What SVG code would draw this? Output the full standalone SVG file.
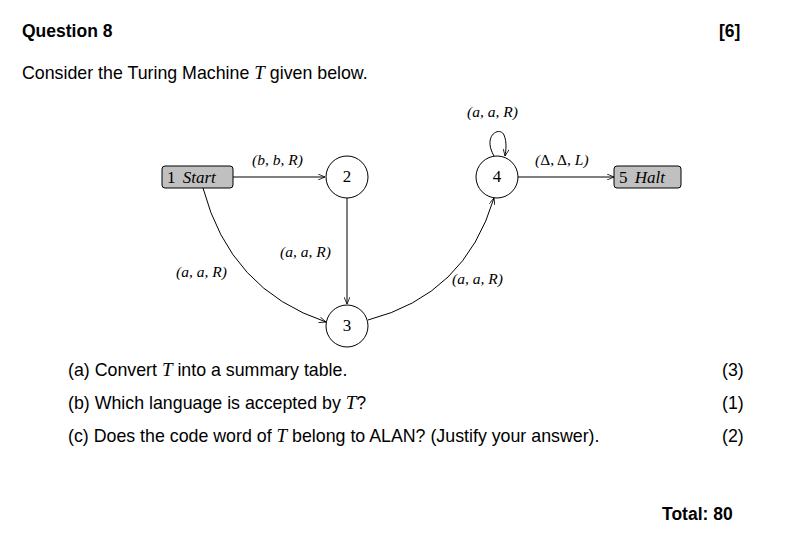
<svg xmlns="http://www.w3.org/2000/svg" width="807" height="546" viewBox="0 0 807 546">
<style>
.b{font-family:"Liberation Sans",Arial,sans-serif;font-weight:bold;font-size:17.5px}
.t{font-family:"Liberation Sans",Arial,sans-serif;font-size:17.8px}
.m{font-family:"Liberation Serif","Times New Roman",serif;font-size:15.5px;font-style:italic}
.n{font-family:"Liberation Serif","Times New Roman",serif;font-size:17px}
.c{fill:#fff;stroke:#000;stroke-width:1}
.r{fill:#c0c0c0;stroke:#000;stroke-width:1}
.e{fill:none;stroke:#000;stroke-width:1;marker-end:url(#a)}
</style>
<defs><marker id="a" markerWidth="8" markerHeight="6" refX="7" refY="3" orient="auto" markerUnits="userSpaceOnUse"><path d="M0,0 L7,3 L0,6" fill="none" stroke="#000" stroke-width="0.8"/></marker></defs>
<rect width="807" height="546" fill="#fff"/>
<text class="b" x="22" y="37">Question 8</text>
<text class="b" x="719" y="37">[6]</text>
<text class="t" x="22" y="79">Consider the Turing Machine <tspan font-family="Liberation Serif,serif" font-style="italic" font-size="19">T</tspan> given below.</text>
<g id="connectors">
<line class="e" x1="233" y1="177" x2="325" y2="177"/>
<line class="e" x1="347" y1="198" x2="347" y2="304"/>
<path class="e" d="M203,188 Q230,290 326,322"/>
<path class="e" d="M368,320 Q465,295 494,198"/>
<path class="e" d="M494,156 C482,135 500,126 504,135 C507,142 506,150 505,156"/>
<line class="e" x1="518" y1="177" x2="614" y2="177"/>
<text class="m" x="252" y="165">(b, b, R)</text>
<text class="m" x="280" y="257">(a, a, R)</text>
<text class="m" x="176" y="277">(a, a, R)</text>
<text class="m" x="452" y="284">(a, a, R)</text>
<text class="m" x="467" y="117">(a, a, R)</text>
<text class="m" x="535" y="165">(<tspan font-style="normal">Δ, Δ,</tspan> L)</text>
</g>
<g id="n1"><rect class="r" x="162" y="166" width="71" height="22" rx="3"/><text class="n" x="167" y="183">1 <tspan font-style="italic" dx="3">Start</tspan></text></g>
<g id="n2"><circle class="c" cx="347" cy="177" r="21"/><text class="n" x="347" y="182" text-anchor="middle" font-size="15">2</text></g>
<g id="n3"><circle class="c" cx="347" cy="326" r="21"/><text class="n" x="347" y="331" text-anchor="middle" font-size="15">3</text></g>
<g id="n4"><circle class="c" cx="497" cy="177" r="21"/><text class="n" x="497" y="182" text-anchor="middle" font-size="15">4</text></g>
<g id="n5"><rect class="r" x="614" y="166" width="67" height="22" rx="3"/><text class="n" x="619" y="183">5 <tspan font-style="italic" dx="3">Halt</tspan></text></g>
<text class="t" x="68" y="376">(a) Convert <tspan font-family="Liberation Serif,serif" font-style="italic" font-size="19">T</tspan> into a summary table.</text>
<text class="t" x="722" y="376">(3)</text>
<text class="t" x="68" y="409">(b) Which language is accepted by <tspan font-family="Liberation Serif,serif" font-style="italic" font-size="19">T</tspan>?</text>
<text class="t" x="722" y="409">(1)</text>
<text class="t" x="68" y="442">(c) Does the code word of <tspan font-family="Liberation Serif,serif" font-style="italic" font-size="19">T</tspan> belong to ALAN? (Justify your answer).</text>
<text class="t" x="722" y="442">(2)</text>
<text class="b" x="662" y="520">Total: 80</text>
</svg>
